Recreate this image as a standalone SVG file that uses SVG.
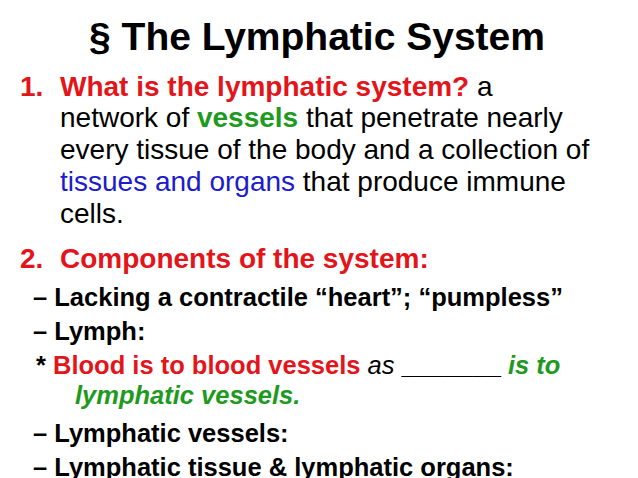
<svg xmlns="http://www.w3.org/2000/svg" width="638" height="478" viewBox="0 0 638 478">
<style>
text{font-family:"Liberation Sans",Arial,sans-serif;fill:#000}
.t{font-size:39px;font-weight:bold}
.m{font-size:28px}
.s{font-size:25.5px;font-weight:bold}
.r{fill:#e4141b;font-weight:bold}
.g{fill:#1e9a1e;font-weight:bold}
.b{fill:#1c1ccc}
.gi{fill:#1e9a1e;font-weight:bold;font-style:italic}
</style>
<rect width="638" height="478" fill="#fff"/>
<text class="t" x="317" y="50" text-anchor="middle">§ The Lymphatic System</text>
<text class="m" x="20" y="96"><tspan class="r">1.</tspan></text>
<text class="m" x="60" y="96"><tspan class="r">What is the lymphatic system?</tspan>  a</text>
<text class="m" x="60" y="127">network of <tspan class="g">vessels</tspan> that penetrate nearly</text>
<text class="m" x="60" y="159">every tissue of the body and a collection of</text>
<text class="m" x="60" y="191"><tspan class="b">tissues and organs</tspan> that produce immune</text>
<text class="m" x="60" y="223">cells.</text>
<text class="m" x="20" y="268"><tspan class="r">2.</tspan></text>
<text class="m" x="60" y="268"><tspan class="r">Components of the system:</tspan></text>
<text class="s" x="33" y="306">– Lacking a contractile “heart”; “pumpless”</text>
<text class="s" x="33" y="340">– Lymph:</text>
<text class="s" x="36" y="374">* <tspan class="r">Blood is to blood vessels</tspan> <tspan style="font-weight:normal;font-style:italic">as</tspan> _______ <tspan class="gi">is to</tspan></text>
<text class="s" x="75" y="404"><tspan class="gi">lymphatic vessels.</tspan></text>
<text class="s" x="33" y="442">– Lymphatic vessels:</text>
<text class="s" x="33" y="476">– Lymphatic tissue &amp; lymphatic organs:</text>
</svg>
